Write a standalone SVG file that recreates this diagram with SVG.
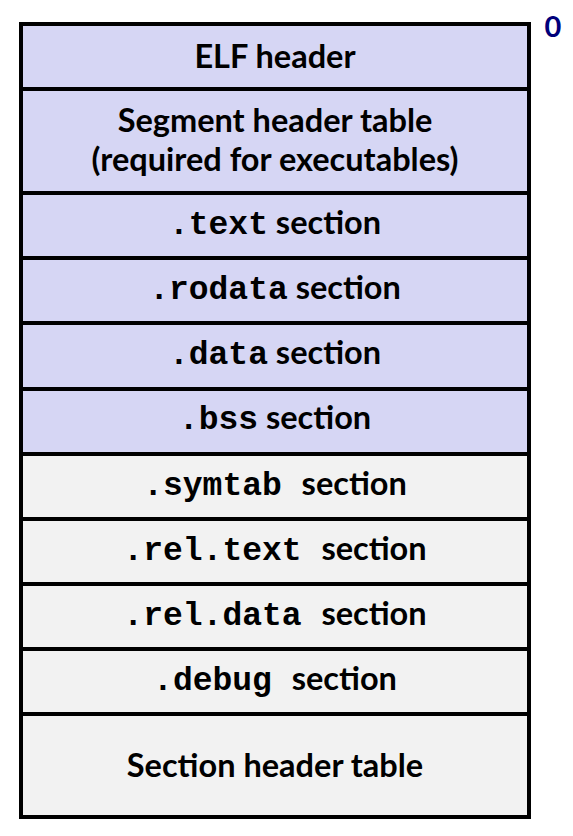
<svg xmlns="http://www.w3.org/2000/svg" width="573" height="836" viewBox="0 0 573 836">
<style>
.row rect{stroke:#000;stroke-width:4}
.lav{fill:#D6D6F4}
.gry{fill:#F2F2F2}
text{font-family:Lato,"Open Sans","Liberation Sans",sans-serif;font-weight:bold;font-size:32.5px;fill:#000;text-anchor:middle}
.m{font-family:"Liberation Mono","Courier New",monospace;font-size:33px}
.off{fill:#00007A;font-size:29px;text-anchor:middle}
</style>
<rect width="573" height="836" fill="#fff"/>
<g id="elf-header" class="row"><rect class="lav" x="21" y="24" width="508" height="65"/><text x="275" y="68">ELF header</text></g>
<g id="segment-header-table" class="row"><rect class="lav" x="21" y="89" width="508" height="104"/><text x="275" y="132">Segment header table</text><text x="275" y="171">(required for executables)</text></g>
<g id="text-section" class="row"><rect class="lav" x="21" y="193" width="508" height="65"/><text x="275" y="234"><tspan class="m">.text</tspan> section</text></g>
<g id="rodata-section" class="row"><rect class="lav" x="21" y="258" width="508" height="65"/><text x="275" y="299"><tspan class="m">.rodata</tspan> section</text></g>
<g id="data-section" class="row"><rect class="lav" x="21" y="323" width="508" height="66"/><text x="275" y="364"><tspan class="m">.data</tspan> section</text></g>
<g id="bss-section" class="row"><rect class="lav" x="21" y="389" width="508" height="65"/><text x="275" y="429"><tspan class="m">.bss</tspan> section</text></g>
<g id="symtab-section" class="row"><rect class="gry" x="21" y="454" width="508" height="65"/><text x="275" y="495"><tspan class="m">.symtab </tspan> section</text></g>
<g id="rel-text-section" class="row"><rect class="gry" x="21" y="519" width="508" height="65"/><text x="275" y="560"><tspan class="m">.rel.text </tspan> section</text></g>
<g id="rel-data-section" class="row"><rect class="gry" x="21" y="584" width="508" height="65"/><text x="275" y="625"><tspan class="m">.rel.data </tspan> section</text></g>
<g id="debug-section" class="row"><rect class="gry" x="21" y="649" width="508" height="65"/><text x="275" y="690"><tspan class="m">.debug </tspan> section</text></g>
<g id="section-header-table" class="row"><rect class="gry" x="21" y="714" width="508" height="103"/><text x="275" y="777">Section header table</text></g>
<g id="offset-label"><text class="off" x="553" y="37">0</text></g>
<g id="connectors"></g>
</svg>
